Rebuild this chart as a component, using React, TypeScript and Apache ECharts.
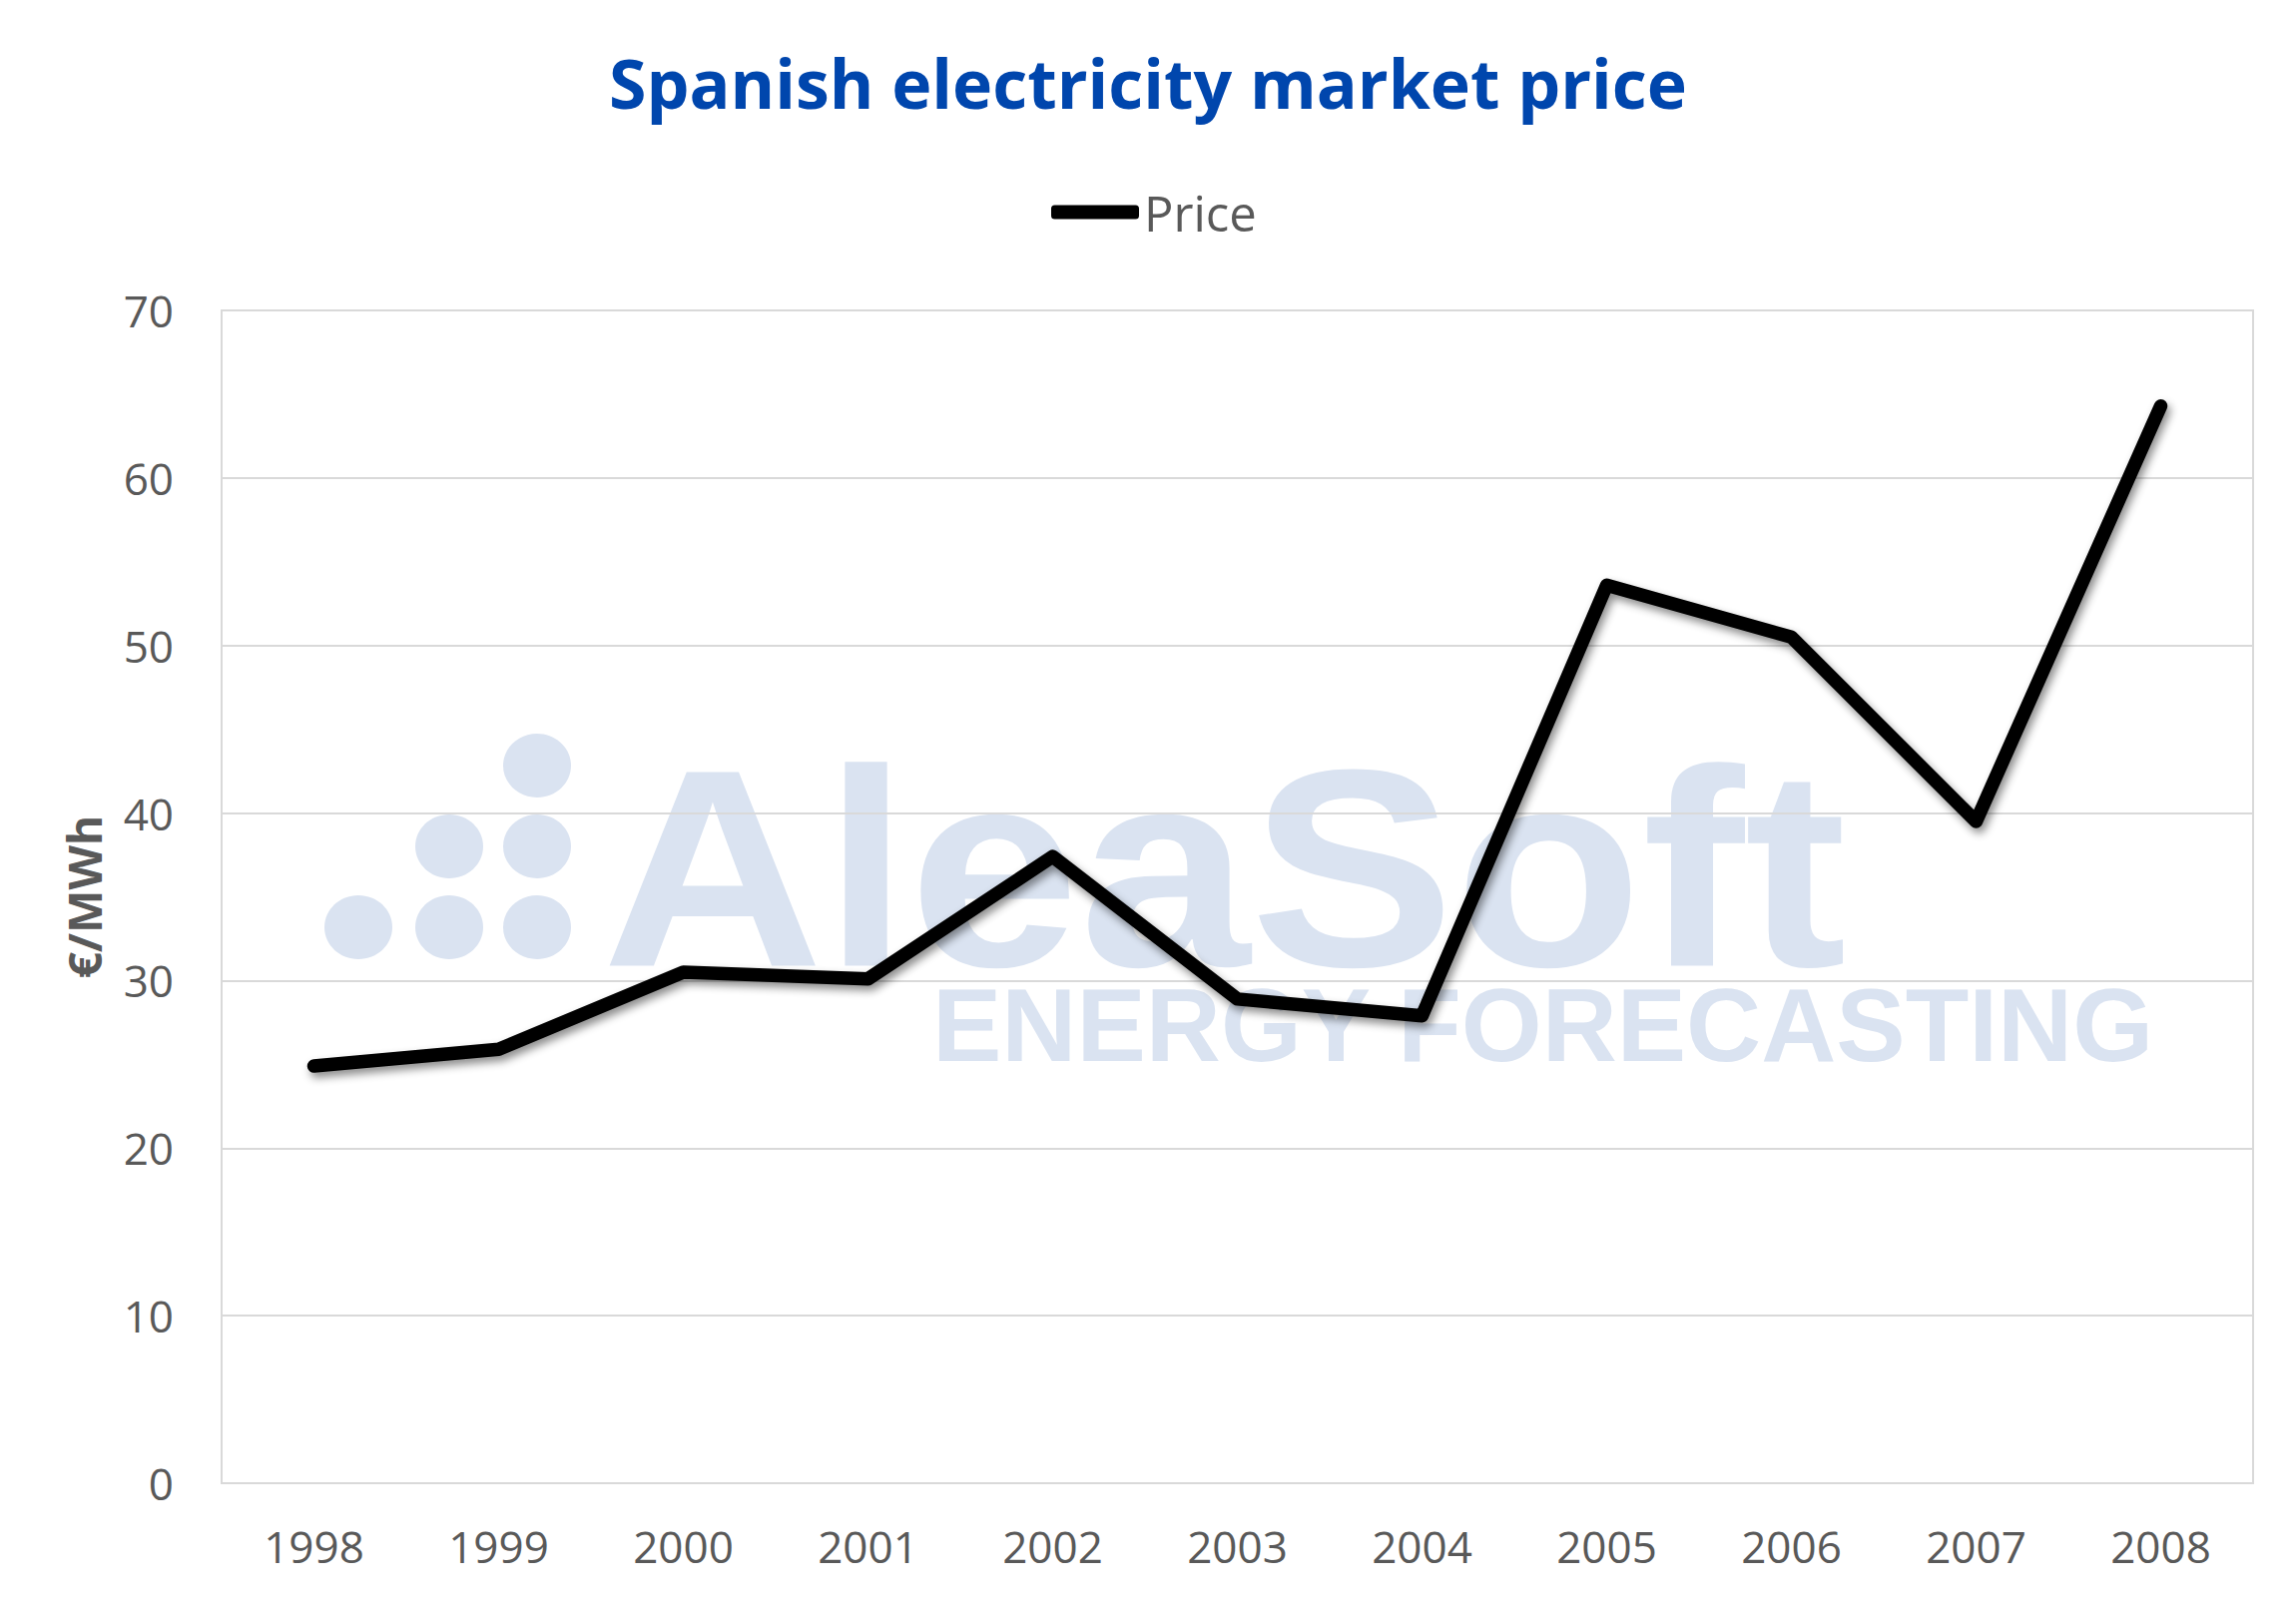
import React, { useEffect, useRef } from "react";
import * as echarts from "echarts";

const years = ["1998", "1999", "2000", "2001", "2002", "2003", "2004", "2005", "2006", "2007", "2008"];
const prices = [24.9, 25.9, 30.5, 30.1, 37.4, 28.9, 27.9, 53.6, 50.5, 39.5, 64.3];
const yTicks = { min: 0, max: 70, interval: 10 };

const TITLE = "Spanish electricity market price";
const SERIES_NAME = "Price";
const Y_NAME = "€/MWh";

const GRID = { left: 222, top: 311, right: 43, bottom: 118 };
const WATERMARK = "#DAE3F1";
const LABEL_GREY = "#595959";

export default function App() {
  const ref = useRef<HTMLDivElement>(null);

  useEffect(() => {
    if (!ref.current) return;
    const chart = echarts.init(ref.current, null, { renderer: "svg" });

    // logo dots of the background watermark
    const dotCentres = [
      [359, 929], [450, 929], [538, 929],
      [450, 848], [538, 848],
      [538, 767],
    ];
    const dots = dotCentres.map(([cx, cy]) => ({
      type: "ellipse",
      shape: { cx, cy, rx: 34, ry: 32 },
      style: { fill: WATERMARK },
      silent: true,
      z: -10,
    }));

    chart.setOption({
      animation: false,
      backgroundColor: "#ffffff",
      title: {
        text: TITLE,
        left: "center",
        top: 43,
        textStyle: {
          fontFamily: "Open Sans",
          fontWeight: "bold",
          fontSize: 68,
          color: "#0046AD",
        },
      },
      legend: {
        top: 183,
        left: 1048,
        icon: "roundRect",
        itemWidth: 88,
        itemHeight: 14,
        textStyle: { fontFamily: "Open Sans", fontSize: 49, color: LABEL_GREY },
        data: [{ name: SERIES_NAME, itemStyle: { color: "#000000" } }],
      },
      graphic: [
        ...dots,
        {
          type: "text",
          x: 603,
          y: 729,
          scaleX: 1.09,
          silent: true,
          z: -10,
          style: {
            text: "AleaSoft",
            x: 0,
            y: 0,
            verticalAlign: "top",
            fontFamily: "Liberation Sans",
            fontWeight: "bold",
            fontSize: 282,
            fill: WATERMARK,
          },
        },
        {
          type: "text",
          left: 934,
          top: 975,
          silent: true,
          z: -10,
          style: {
            text: "ENERGY FORECASTING",
            fontFamily: "Liberation Sans",
            fontWeight: "bold",
            fontSize: 104,
            fill: WATERMARK,
          },
        },
      ],
      grid: {
        ...GRID,
        show: true,
        borderColor: "#D9D9D9",
        borderWidth: 2,
        backgroundColor: "transparent",
        z: 0,
      },
      xAxis: {
        type: "category",
        data: years,
        boundaryGap: true,
        axisLine: { show: true, lineStyle: { color: "#D9D9D9", width: 2 } },
        axisTick: { show: false },
        axisLabel: {
          margin: 41,
          fontFamily: "Open Sans",
          fontSize: 44,
          color: LABEL_GREY,
        },
      },
      yAxis: {
        type: "value",
        min: yTicks.min,
        max: yTicks.max,
        interval: yTicks.interval,
        name: Y_NAME,
        nameLocation: "middle",
        nameGap: 115,
        nameRotate: 90,
        nameTextStyle: {
          fontFamily: "Open Sans",
          fontWeight: "bold",
          fontSize: 46,
          color: LABEL_GREY,
        },
        axisLine: { show: false },
        axisTick: { show: false },
        splitLine: { show: true, lineStyle: { color: "#D9D9D9", width: 2 } },
        axisLabel: {
          margin: 48,
          fontFamily: "Open Sans",
          fontSize: 44,
          color: LABEL_GREY,
        },
      },
      series: [
        {
          name: SERIES_NAME,
          type: "line",
          data: prices,
          symbol: "none",
          z: 5,
          lineStyle: {
            color: "#000000",
            width: 13.5,
            cap: "round",
            join: "round",
            shadowColor: "rgba(0,0,0,0.45)",
            shadowBlur: 8,
            shadowOffsetX: 3,
            shadowOffsetY: 5,
          },
          itemStyle: { color: "#000000" },
        },
      ],
    });

    return () => chart.dispose();
  }, []);

  return (
    <div
      ref={ref}
      style={{ position: "absolute", left: 0, top: 0, width: 2300, height: 1604 }}
    />
  );
}
